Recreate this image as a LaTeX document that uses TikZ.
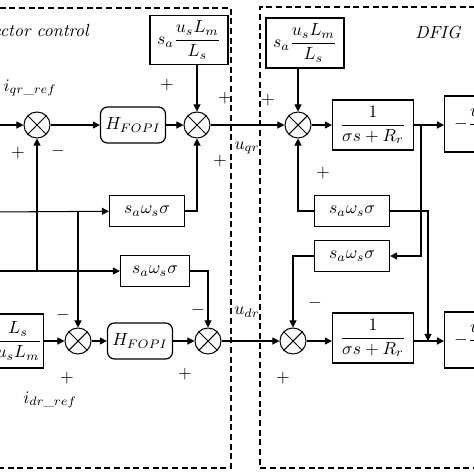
\documentclass[tikz,border=0pt]{standalone}
\usepackage{amsmath}
\usetikzlibrary{arrows.meta, positioning}

\begin{document}
\begin{tikzpicture}[
  x=0.2mm, y=-0.2mm,
  line width=0.6pt,
  box/.style={rectangle, draw, line width=0.7pt, inner sep=2pt},
  pibox/.style={box, rounded corners=4pt, minimum width=1.3cm, minimum height=0.72cm},
  wbox/.style={box, minimum width=1.5cm, minimum height=0.62cm},
  gbox/.style={box, minimum width=1.62cm, minimum height=1cm},
  sumj/.style={circle, draw, minimum size=0.52cm, inner sep=0pt,
    path picture={\draw (path picture bounding box.center) +(45:0.3cm) -- +(225:0.3cm) +(135:0.3cm) -- +(-45:0.3cm);}},
  arr/.style={-{Triangle[length=4pt, width=4pt]}},
  frame/.style={line width=0.9pt, dash pattern=on 3.5pt off 2pt},
]
\useasboundingbox (0,0) rectangle (474,474);
\clip (0,0) rectangle (474,474);

%% Frames
\draw[frame] (-10,8) -| (231,468) -- (-10,468);
\draw[frame] (485,7) -| (260,468) -- (485,468);
\node[font=\itshape, anchor=base east] (vc) at (95,37) {Vector control};
\node[font=\itshape, anchor=base east] (dfig) at (467,38) {DFIG};

%% Sum junctions
\node[sumj] (s1) at (37,125) {};
\node[sumj] (s2) at (197,125) {};
\node[sumj] (s3) at (298,125) {};
\node[sumj] (s6) at (78,341) {};
\node[sumj] (s8) at (208,341) {};
\node[sumj] (s4) at (293,341) {};

%% Controller blocks
\node[box, minimum width=1.56cm, minimum height=0.98cm] (cK) at (189,40) {$s_a\dfrac{u_sL_m}{L_s}$};
\node[pibox] (H1) at (133,125) {$H_{FOPI}$};
\node[pibox] (H2) at (140,341) {$H_{FOPI}$};
\node[wbox] (cW1) at (147,211) {$s_a\omega_s\sigma$};
\node[wbox, minimum width=1.38cm] (cW2) at (155,271) {$s_a\omega_s\sigma$};
\node[box, anchor=east, minimum height=1.08cm, inner xsep=1pt] (cL) at (44,341) {$-\!\dfrac{L_s}{u_sL_m}$};

%% DFIG blocks
\node[box, minimum width=1.56cm, minimum height=1cm] (dK) at (305,43) {$s_a\dfrac{u_sL_m}{L_s}$};
\node[gbox] (Gq) at (373,125) {$\dfrac{1}{\sigma s+R_r}$};
\node[gbox] (Gd) at (373,338) {$\dfrac{1}{\sigma s+R_r}$};
\node[wbox] (dW1) at (352,211) {$s_a\omega_s\sigma$};
\node[wbox] (dW2) at (352,256) {$s_a\omega_s\sigma$};
\node[box, anchor=west, minimum width=1.6cm, minimum height=1.12cm] (Rq) at (444,124) {$-\dfrac{u_sL_m}{L_s}$};
\node[box, anchor=west, minimum width=1.6cm, minimum height=1.12cm] (Rd) at (444,340) {$-\dfrac{u_sL_m}{L_s}$};

%% Free ends and branch points
\coordinate (qin) at (-5,125);
\coordinate (idl) at (-5,212);
\coordinate (iql) at (-5,271);
\coordinate (bq) at (421,125);
\coordinate (bd) at (428,341);

%% q axis
\draw[arr] (qin) -- (s1);
\draw[arr] (s1) -- (H1);
\draw[arr] (H1) -- (s2);
\draw[arr] (s2 |- cK.south) -- (s2);
\draw[arr] (s2) -- (s3);
\draw[arr] (s3 |- dK.south) -- (s3);
\draw[arr] (s3) -- (Gq);
\draw[arr] (Gq) -- (Rq.west |- Gq);

%% d axis
\draw[arr] (cL.east |- s6) -- (s6);
\draw[arr] (s6) -- (H2);
\draw[arr] (H2) -- (s8);
\draw[arr] (s8) -- (s4);
\draw[arr] (s4) -- (s4 -| Gd.west);
\draw[arr] (s4 -| Gd.east) -- (s4 -| Rd.west);

%% Coupling terms
\draw[arr] (idl) -- (cW1);
\draw[arr] (iql) -- (cW2);
\draw[arr] (s1 |- iql) -- (s1);
\draw[arr] (s6 |- idl) -- (s6);
\draw[arr] (cW1.east) -| (s2);
\draw[arr] (cW2.east) -| (s8);
\draw[arr] (bq) |- (dW2.east);
\draw[arr] (dW1.east) -| (bd);
\draw[arr] (dW1.west) -| (s3);
\draw[arr] (dW2.west) -| (s4);

%% Signals
\node (iqr) at (30,88) {$i_{qr\_ref}$};
\node (idr) at (50,400) {$i_{dr\_ref}$};
\node (uq) at (247,148) {$u_{qr}$};
\node (ud) at (247,312) {$u_{dr}$};

%% Signs
\node (p1) at (18,153) {$+$};
\node (m1) at (58,151) {$-$};
\node (p2) at (167,85) {$+$};
\node (p3) at (225,98) {$+$};
\node (p4) at (220,161) {$+$};
\node (p5) at (268,100) {$+$};
\node (p6) at (323,173) {$+$};
\node (m6) at (63,315) {$-$};
\node (p7) at (67,378) {$+$};
\node (m8) at (198,310) {$-$};
\node (p8) at (185,374) {$+$};
\node (m4) at (315,303) {$-$};
\node (p9) at (283,378) {$+$};

\end{tikzpicture}
\end{document}
